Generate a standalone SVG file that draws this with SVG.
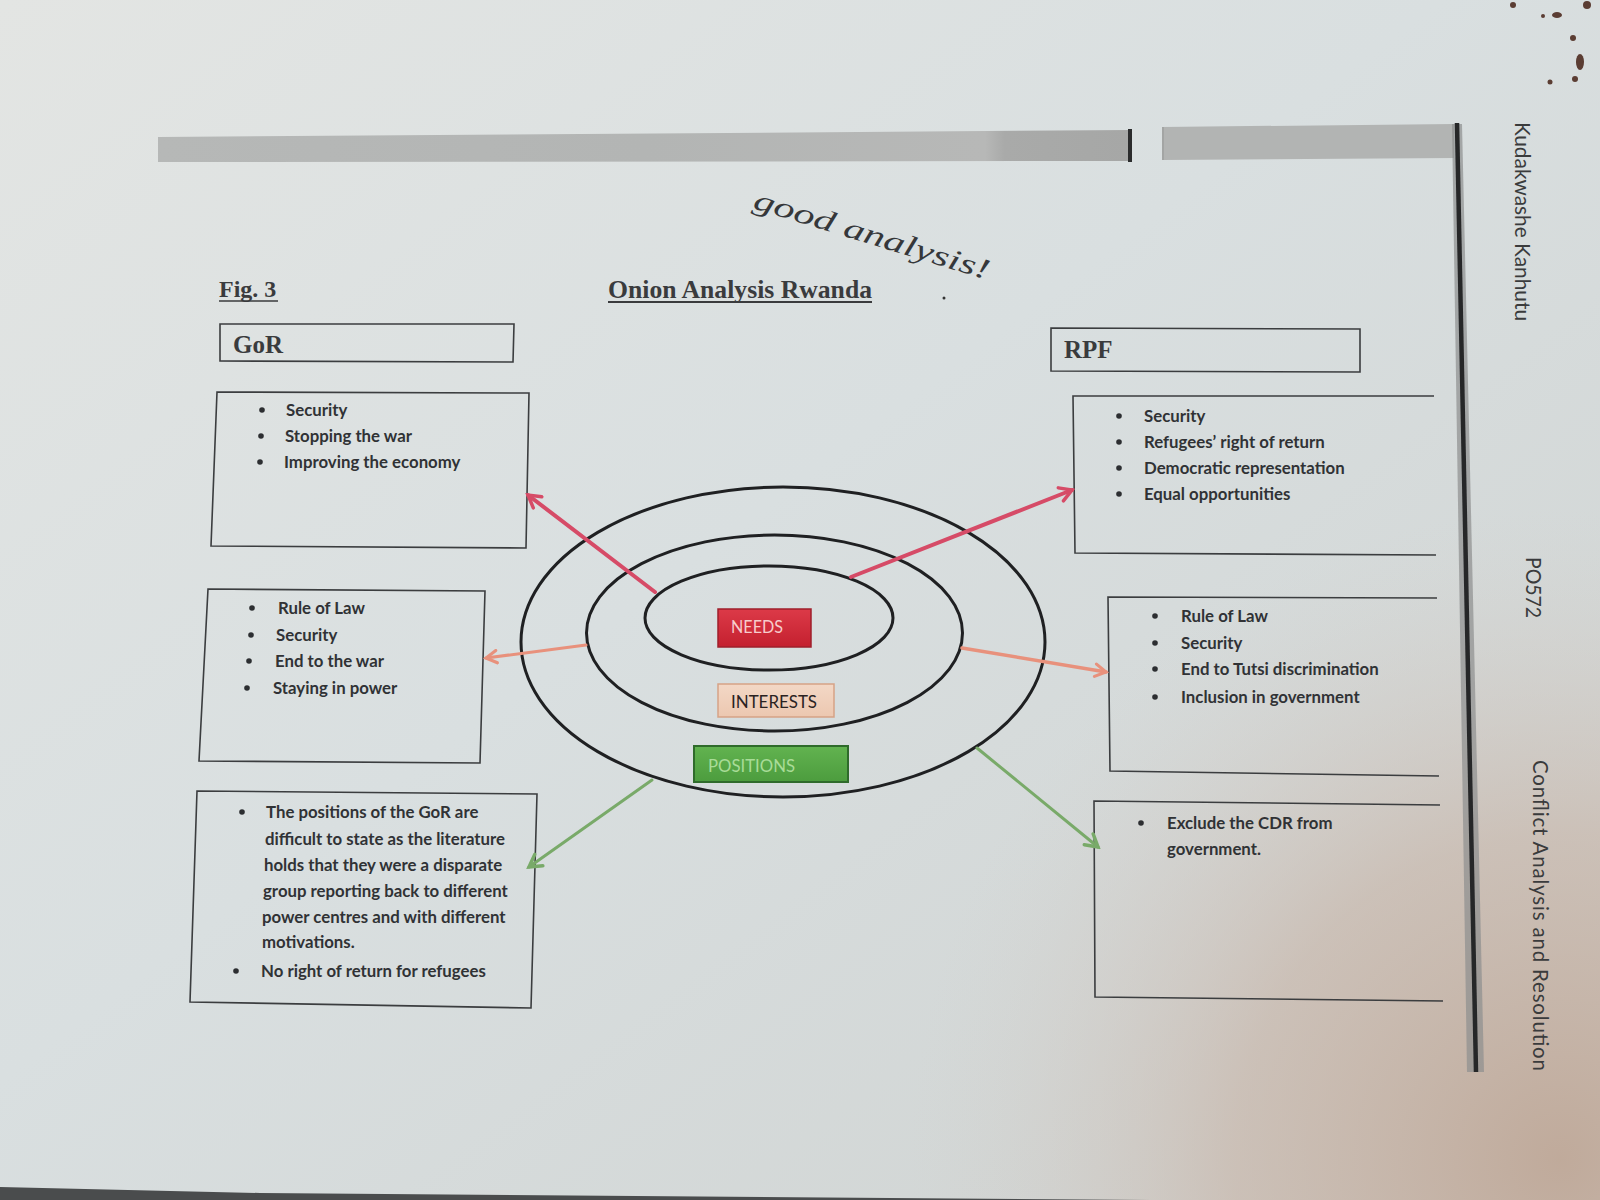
<svg xmlns="http://www.w3.org/2000/svg" width="1600" height="1200" viewBox="0 0 1600 1200">
<defs>
<linearGradient id="paper" x1="0" y1="0" x2="1" y2="1">
<stop offset="0" stop-color="#e3e5e3"/>
<stop offset="0.45" stop-color="#d9dfe0"/>
<stop offset="1" stop-color="#cfd2d0"/>
</linearGradient>
<radialGradient id="warm" cx="1560" cy="1160" r="650" gradientUnits="userSpaceOnUse">
<stop offset="0" stop-color="#bfa898" stop-opacity="0.95"/>
<stop offset="0.5" stop-color="#c8b5a8" stop-opacity="0.65"/>
<stop offset="1" stop-color="#d3d0cc" stop-opacity="0"/>
</radialGradient>
<linearGradient id="bar1" x1="0" y1="0" x2="1" y2="0">
<stop offset="0" stop-color="#b6b8b7"/>
<stop offset="0.5" stop-color="#b3b5b4"/>
<stop offset="0.85" stop-color="#b7b8b7"/>
<stop offset="0.87" stop-color="#a9aaa9"/>
<stop offset="1" stop-color="#a6a7a6"/>
</linearGradient>
<linearGradient id="needsFill" x1="0" y1="0" x2="0" y2="1">
<stop offset="0" stop-color="#dc3a48"/>
<stop offset="1" stop-color="#c4202f"/>
</linearGradient>
<linearGradient id="intFill" x1="0" y1="0" x2="0" y2="1">
<stop offset="0" stop-color="#f3d8c6"/>
<stop offset="1" stop-color="#ecc7b0"/>
</linearGradient>
<linearGradient id="posFill" x1="0" y1="0" x2="0" y2="1">
<stop offset="0" stop-color="#62b350"/>
<stop offset="1" stop-color="#4c9c3e"/>
</linearGradient>
<marker id="headRed" viewBox="0 0 18 18" refX="15" refY="9" markerWidth="18" markerHeight="18" markerUnits="userSpaceOnUse" orient="auto">
<path d="M3,2 L15,9 L3,16" fill="none" stroke="#d64b67" stroke-width="3.5" stroke-linecap="round"/>
</marker>
<marker id="headOrange" viewBox="0 0 18 18" refX="15" refY="9" markerWidth="16" markerHeight="16" markerUnits="userSpaceOnUse" orient="auto">
<path d="M3,2 L15,9 L3,16" fill="none" stroke="#e8917c" stroke-width="3.5" stroke-linecap="round"/>
</marker>
<marker id="headGreen" viewBox="0 0 18 18" refX="15" refY="9" markerWidth="18" markerHeight="18" markerUnits="userSpaceOnUse" orient="auto">
<path d="M3,2 L15,9 L3,16" fill="none" stroke="#79aa69" stroke-width="3.5" stroke-linecap="round"/>
</marker>
</defs>
<style>
.box{fill:none;stroke:#3b3d3f;stroke-width:1.6}
.ring{fill:none;stroke:#1f2022;stroke-width:3}
.body{font-family:Lato,"Liberation Sans",sans-serif;font-size:16.8px;font-weight:bold;fill:#303235}
.head{font-family:"Liberation Serif",serif;font-weight:bold;fill:#3a3b3d}
.side{font-family:Lato,"Liberation Sans",sans-serif;font-size:20.5px;fill:#3a3b3c}
.bul{fill:#2c2e31}
.lab{font-family:Lato,"Liberation Sans",sans-serif;font-size:17px}
</style>
<rect x="0" y="0" width="1600" height="1200" fill="url(#paper)"/>
<rect x="0" y="0" width="1600" height="1200" fill="url(#warm)"/>
<polygon points="0,1187 260,1193 1150,1200 0,1200" fill="#4a4c4d"/>
<g id="specks" fill="#5b3d33">
<circle cx="1513" cy="5" r="3"/><circle cx="1543" cy="16" r="2"/><ellipse cx="1557" cy="15" rx="5" ry="3"/>
<circle cx="1587" cy="5" r="4"/><circle cx="1573" cy="38" r="3"/><ellipse cx="1580" cy="62" rx="4" ry="8"/>
<circle cx="1550" cy="82" r="2.5"/><circle cx="1575" cy="79" r="3"/>
</g>
<g id="page-frame">
<polygon points="158,137 1131,130 1131,161 158,162" fill="url(#bar1)"/>
<rect x="1128" y="129" width="4" height="33" fill="#2b2c2d"/>
<polygon points="1162,127 1454,124 1454,158 1162,160" fill="#b2b4b3"/>
<line x1="1163" y1="127" x2="1163" y2="160" stroke="#a3a5a4" stroke-width="2"/>
<polygon points="1452,124 1462,124 1484,1072 1467,1072" fill="#8d8e8e" opacity="0.7"/>
<line x1="1457" y1="123" x2="1476" y2="1072" stroke="#262728" stroke-width="4.5"/>
</g>
<g id="side-header">
<text class="side" transform="translate(1515,122) rotate(90)" textLength="199" lengthAdjust="spacingAndGlyphs">Kudakwashe Kanhutu</text>
<text class="side" transform="translate(1526,557) rotate(90)" textLength="61" lengthAdjust="spacingAndGlyphs">PO572</text>
<text class="side" transform="translate(1533,760) rotate(90)" textLength="311">Conflict Analysis and Resolution</text>
</g>
<g id="titles">
<text class="head" x="219" y="297" font-size="24">Fig. 3</text>
<line x1="219" y1="301" x2="278" y2="301" stroke="#3a3b3d" stroke-width="1.6"/>
<text class="head" x="608" y="298" font-size="25.5" textLength="264" lengthAdjust="spacingAndGlyphs">Onion Analysis Rwanda</text>
<line x1="608" y1="302" x2="872" y2="302" stroke="#3a3b3d" stroke-width="2"/>
<text transform="translate(752,208) rotate(17)" font-family="'Liberation Serif',serif" font-style="italic" font-size="29" fill="#35373a" textLength="245" lengthAdjust="spacingAndGlyphs">good analysis!</text>
<circle cx="944" cy="298" r="1.5" fill="#333"/>
</g>
<g id="gor-header">
<polygon class="box" points="220,324 514,324 513,362 220,361"/>
<text class="head" x="233" y="353" font-size="25">GoR</text>
</g>
<g id="rpf-header">
<polygon class="box" points="1051,328 1360,329 1360,372 1051,371"/>
<text class="head" x="1064" y="358" font-size="25">RPF</text>
</g>
<g id="gor-needs">
<polygon class="box" points="217,392 529,393 526,548 211,546"/>
<circle class="bul" cx="262" cy="410" r="2.8"/><text class="body" x="286" y="416">Security</text>
<circle class="bul" cx="261" cy="436" r="2.8"/><text class="body" x="285" y="442">Stopping the war</text>
<circle class="bul" cx="260" cy="462" r="2.8"/><text class="body" x="284" y="468">Improving the economy</text>
</g>
<g id="gor-interests">
<polygon class="box" points="208,589 485,591 480,763 199,761"/>
<circle class="bul" cx="252" cy="608" r="2.8"/><text class="body" x="278" y="614">Rule of Law</text>
<circle class="bul" cx="251" cy="635" r="2.8"/><text class="body" x="276" y="641">Security</text>
<circle class="bul" cx="249" cy="661" r="2.8"/><text class="body" x="275" y="667">End to the war</text>
<circle class="bul" cx="247" cy="688" r="2.8"/><text class="body" x="273" y="694">Staying in power</text>
</g>
<g id="gor-positions">
<polygon class="box" points="197,791 537,794 531,1008 190,1002"/>
<circle class="bul" cx="242" cy="812" r="2.8"/>
<text class="body" x="266" y="818">The positions of the GoR are</text>
<text class="body" x="265" y="845">difficult to state as the literature</text>
<text class="body" x="264" y="871">holds that they were a disparate</text>
<text class="body" x="263" y="897">group reporting back to different</text>
<text class="body" x="262" y="923">power centres and with different</text>
<text class="body" x="262" y="948">motivations.</text>
<circle class="bul" cx="236" cy="971" r="2.8"/>
<text class="body" x="261" y="977">No right of return for refugees</text>
</g>
<g id="rpf-needs">
<path class="box" d="M1434,396 L1073,396 L1075,553 L1436,555"/>
<circle class="bul" cx="1119" cy="416" r="2.8"/><text class="body" x="1144" y="422">Security</text>
<circle class="bul" cx="1119" cy="442" r="2.8"/><text class="body" x="1144" y="448">Refugees’ right of return</text>
<circle class="bul" cx="1119" cy="468" r="2.8"/><text class="body" x="1144" y="474">Democratic representation</text>
<circle class="bul" cx="1119" cy="494" r="2.8"/><text class="body" x="1144" y="500">Equal opportunities</text>
</g>
<g id="rpf-interests">
<path class="box" d="M1437,598 L1108,597 L1110,771 L1439,776"/>
<circle class="bul" cx="1155" cy="616" r="2.8"/><text class="body" x="1181" y="622">Rule of Law</text>
<circle class="bul" cx="1155" cy="643" r="2.8"/><text class="body" x="1181" y="649">Security</text>
<circle class="bul" cx="1155" cy="669" r="2.8"/><text class="body" x="1181" y="675">End to Tutsi discrimination</text>
<circle class="bul" cx="1155" cy="697" r="2.8"/><text class="body" x="1181" y="703">Inclusion in government</text>
</g>
<g id="rpf-positions">
<path class="box" d="M1440,805 L1094,801 L1095,997 L1443,1001"/>
<circle class="bul" cx="1141" cy="823" r="2.8"/><text class="body" x="1167" y="829">Exclude the CDR from</text>
<text class="body" x="1167" y="855">government.</text>
</g>
<g id="onion">
<ellipse class="ring" cx="783" cy="642" rx="262" ry="155"/>
<ellipse class="ring" cx="774.5" cy="633" rx="188" ry="98"/>
<ellipse class="ring" cx="769" cy="618" rx="124" ry="52"/>
</g>
<g id="connectors" fill="none" stroke-linecap="round">
<line x1="655" y1="592" x2="528" y2="495" stroke="#d64b67" stroke-width="4" marker-end="url(#headRed)"/>
<line x1="851" y1="577" x2="1072" y2="490" stroke="#d64b67" stroke-width="4" marker-end="url(#headRed)"/>
<line x1="586" y1="645" x2="486" y2="658" stroke="#e8917c" stroke-width="3" marker-end="url(#headOrange)"/>
<line x1="962" y1="648" x2="1106" y2="672" stroke="#e8917c" stroke-width="3.5" marker-end="url(#headOrange)"/>
<line x1="652" y1="780" x2="529" y2="867" stroke="#79aa69" stroke-width="3" marker-end="url(#headGreen)"/>
<line x1="977" y1="748" x2="1098" y2="847" stroke="#79aa69" stroke-width="3" marker-end="url(#headGreen)"/>
</g>
<g id="needs-label">
<rect x="718" y="609" width="93" height="38" fill="url(#needsFill)" stroke="#9e1f2b" stroke-width="1.5"/>
<text class="lab" x="731" y="633" fill="#f7cccc" textLength="52" lengthAdjust="spacingAndGlyphs">NEEDS</text>
</g>
<g id="interests-label">
<rect x="718" y="684" width="116" height="33" fill="url(#intFill)" stroke="#d6a286" stroke-width="1.5"/>
<text class="lab" x="731" y="708" fill="#2a2222" textLength="86" lengthAdjust="spacingAndGlyphs">INTERESTS</text>
</g>
<g id="positions-label">
<rect x="694" y="746" width="154" height="36" fill="url(#posFill)" stroke="#2f6b2b" stroke-width="2"/>
<text class="lab" x="708" y="772" fill="#a9dc98" textLength="87" lengthAdjust="spacingAndGlyphs">POSITIONS</text>
</g>
</svg>
